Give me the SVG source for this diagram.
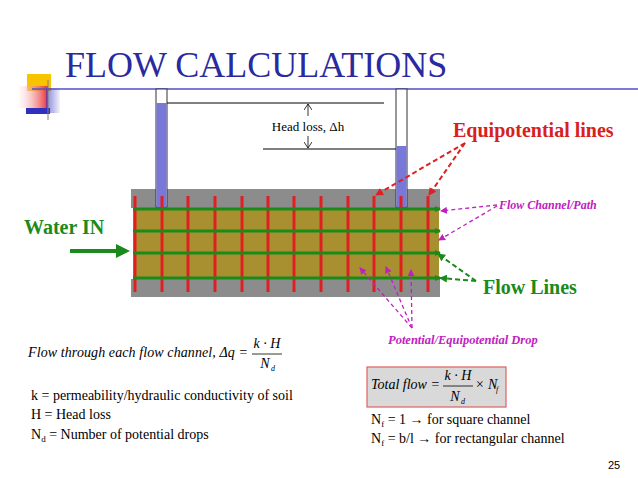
<svg xmlns="http://www.w3.org/2000/svg" width="638" height="478" viewBox="0 0 638 478">
<defs>
<linearGradient id="rg" x1="1" y1="0" x2="0" y2="0"><stop offset="0" stop-color="#e83030"/><stop offset="1" stop-color="#ffffff" stop-opacity="0.2"/></linearGradient>
<linearGradient id="bg" x1="0" y1="0" x2="1" y2="0"><stop offset="0" stop-color="#3030c0"/><stop offset="1" stop-color="#3030c0" stop-opacity="0.1"/></linearGradient>
<marker id="ag" markerWidth="6" markerHeight="6" refX="5" refY="3" orient="auto" markerUnits="userSpaceOnUse" viewBox="0 0 6 6"><path d="M0,0L6,3L0,6z" fill="#1a8a1a"/></marker>
<marker id="ar" markerWidth="8" markerHeight="8" refX="7" refY="4" orient="auto" markerUnits="userSpaceOnUse" viewBox="0 0 8 8"><path d="M0,0L8,4L0,8z" fill="#e02020"/></marker>
<marker id="am" markerWidth="7" markerHeight="7" refX="6" refY="3.5" orient="auto" markerUnits="userSpaceOnUse" viewBox="0 0 7 7"><path d="M0,0L7,3.5L0,7z" fill="#c020c0"/></marker>
<marker id="agd" markerWidth="8" markerHeight="8" refX="7" refY="4" orient="auto" markerUnits="userSpaceOnUse" viewBox="0 0 8 8"><path d="M0,0L8,4L0,8z" fill="#1a8a1a"/></marker>
<marker id="ak" markerWidth="8" markerHeight="8" refX="7" refY="4" orient="auto" markerUnits="userSpaceOnUse" viewBox="0 0 8 8"><path d="M1,0L7,4L1,8" fill="none" stroke="#000" stroke-width="0.8"/></marker>
</defs>
<style>
text{font-family:"Liberation Serif",serif}
.red{stroke:#e02020;stroke-width:3}
.gr{stroke:#1a8a1a;stroke-width:3}
.rd{stroke:#e02020;stroke-width:2;stroke-dasharray:5,3;fill:none}
.md{stroke:#c020c0;stroke-width:1.3;stroke-dasharray:4,3;fill:none}
.gd{stroke:#1a8a1a;stroke-width:2;stroke-dasharray:5,3;fill:none}
</style>
<rect width="638" height="478" fill="#fff"/>
<g id="decor">
<rect x="27" y="74" width="24" height="17" fill="#f8c400"/>
<rect x="16" y="86" width="32" height="22" fill="url(#rg)"/>
<rect x="26" y="108" width="24" height="6" fill="#3030c0"/>
<rect x="46" y="88" width="14" height="25" fill="url(#bg)" opacity="0.6"/>
<line x1="48" y1="80" x2="48" y2="120" stroke="#808080" stroke-width="1"/>
<line x1="32" y1="89" x2="638" y2="89" stroke="#5050c8" stroke-width="1.5"/>
<text x="65" y="77" font-size="36" fill="#2a2aa0">FLOW CALCULATIONS</text>
</g>
<g id="soil">
<rect x="131" y="189" width="309" height="19" fill="#8c8c8c"/>
<rect x="131" y="279" width="309" height="18" fill="#8c8c8c"/>
<rect x="133" y="208" width="306" height="71" fill="#a89030"/>
</g>
<g id="tubes">
<rect x="156" y="89" width="11" height="118" fill="#fff" stroke="#333" stroke-width="1"/>
<rect x="156.5" y="103" width="10" height="104" fill="#7878d8"/>
<rect x="396" y="89" width="11" height="118" fill="#fff" stroke="#333" stroke-width="1"/>
<rect x="396.5" y="146" width="10" height="61" fill="#7878d8"/>
</g>
<g id="headloss">
<line x1="167" y1="103" x2="384" y2="103" stroke="#000" stroke-width="1"/>
<line x1="263" y1="149" x2="396" y2="149" stroke="#000" stroke-width="1"/>
<line x1="308" y1="116" x2="308" y2="104" stroke="#000" stroke-width="0.8" marker-end="url(#ak)"/>
<line x1="308" y1="136" x2="308" y2="148" stroke="#000" stroke-width="0.8" marker-end="url(#ak)"/>
<text x="308" y="131" font-size="13" text-anchor="middle">Head loss, Δh</text>
</g>
<g id="equipotential">
<g class="red">
<line x1="135" y1="196" x2="135" y2="292"/><line x1="162" y1="196" x2="162" y2="292"/>
<line x1="188" y1="196" x2="188" y2="292"/><line x1="215" y1="196" x2="215" y2="292"/>
<line x1="242" y1="196" x2="242" y2="292"/><line x1="268" y1="196" x2="268" y2="292"/>
<line x1="294" y1="196" x2="294" y2="292"/><line x1="321" y1="196" x2="321" y2="292"/>
<line x1="348" y1="196" x2="348" y2="292"/><line x1="374" y1="196" x2="374" y2="292"/>
<line x1="401" y1="196" x2="401" y2="292"/><line x1="428" y1="196" x2="428" y2="292"/>
</g>
</g>
<g id="flowlines">
<g class="gr" marker-end="url(#ag)">
<line x1="133" y1="209" x2="440" y2="209"/><line x1="133" y1="231" x2="440" y2="231"/>
<line x1="133" y1="253" x2="440" y2="253"/><line x1="133" y1="278" x2="440" y2="278"/>
</g>
</g>
<g id="water-in">
<text x="24" y="234" font-size="20" font-weight="bold" fill="#1a8a1a">Water IN</text>
<line x1="70" y1="251" x2="118" y2="251" stroke="#1a8a1a" stroke-width="4"/>
<path d="M116,244L130,251L116,258z" fill="#1a8a1a"/>
</g>
<g id="labels">
<text x="453" y="137" font-size="20" font-weight="bold" fill="#d82020">Equipotential lines</text>
<text x="499" y="209" font-size="12" font-weight="bold" font-style="italic" fill="#c020c0">Flow Channel/Path</text>
<text x="483" y="294" font-size="20" font-weight="bold" fill="#1a8a1a">Flow Lines</text>
<text x="388" y="344" font-size="12.5" font-weight="bold" font-style="italic" fill="#c020c0">Potential/Equipotential Drop</text>
</g>
<g id="connectors">
<path class="rd" d="M465,143L376,195" marker-end="url(#ar)"/>
<path class="rd" d="M465,143L429,195" marker-end="url(#ar)"/>
<path class="md" d="M497,205L441,211" marker-end="url(#am)"/>
<path class="md" d="M497,206L439,240" marker-end="url(#am)"/>
<path class="gd" d="M476,281L438,254" marker-end="url(#agd)"/>
<path class="gd" d="M476,281L440,278" marker-end="url(#agd)"/>
<path class="md" d="M412,328L360,268" marker-end="url(#am)"/>
<path class="md" d="M412,328L386,267" marker-end="url(#am)"/>
<path class="md" d="M412,328L411,270" marker-end="url(#am)"/>
</g>
<g id="formula1" font-style="italic" font-size="14">
<text x="28" y="357" textLength="220">Flow through each  flow channel, Δq =</text>
<text x="267" y="348" text-anchor="middle">k · H</text>
<line x1="252" y1="354" x2="282" y2="354" stroke="#000" stroke-width="0.8"/>
<text x="265" y="368" text-anchor="middle">N</text><text x="271" y="371" font-size="8">d</text>
</g>
<g id="defs-text" font-size="14">
<text x="31" y="400">k = permeability/hydraulic conductivity of soil</text>
<text x="31" y="419">H = Head loss</text>
<text x="31" y="439">N<tspan font-size="9" dy="3">d</tspan><tspan dy="-3"> = Number of potential drops</tspan></text>
</g>
<g id="formula2">
<rect x="367" y="367" width="139" height="40" fill="#d9d9d9" stroke="#e06060" stroke-width="1.2"/>
<g font-style="italic" font-size="14">
<text x="371" y="389">Total  flow =</text>
<text x="458" y="380" text-anchor="middle">k · H</text>
<line x1="443" y1="386" x2="473" y2="386" stroke="#000" stroke-width="0.8"/>
<text x="455" y="401" text-anchor="middle">N</text><text x="461" y="404" font-size="8">d</text>
<text x="475" y="389">× N</text><text x="496" y="392" font-size="8">f</text>
</g>
</g>
<g id="nf" font-size="14">
<text x="371" y="424">N<tspan font-size="9" dy="3">f</tspan><tspan dy="-3"> = 1 → for square channel</tspan></text>
<text x="371" y="443">N<tspan font-size="9" dy="3">f</tspan><tspan dy="-3"> = b/l → for rectangular channel</tspan></text>
</g>
<text x="614" y="469" style="font-family:'Liberation Sans',sans-serif" font-size="11" text-anchor="middle">25</text>
</svg>
